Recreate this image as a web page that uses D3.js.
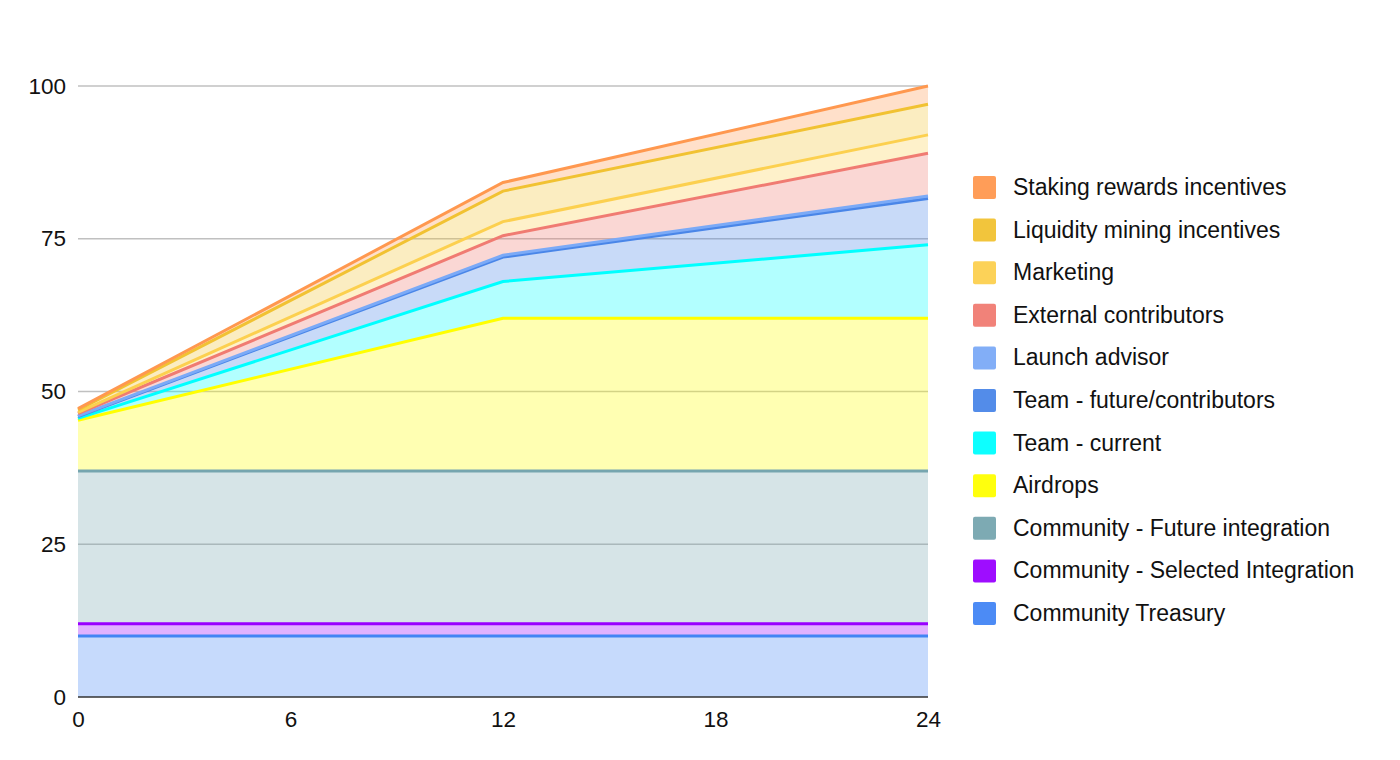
<!DOCTYPE html>
<html>
<head>
<meta charset="utf-8">
<script src="https://cdn.jsdelivr.net/npm/d3@7"></script>
<style>
  html, body { margin: 0; padding: 0; background: #fff; }
  svg { display: block; }
  text { font-family: "Liberation Sans", Arial, sans-serif; fill: #111; }
</style>
</head>
<body>
<svg id="chart" width="1400" height="760"></svg>
<script>
// ---- Data ----
const months = [0, 12, 24];
const seriesNames = [
  "Community Treasury",
  "Community - Selected Integration",
  "Community - Future integration",
  "Airdrops",
  "Team - current",
  "Team - future/contributors",
  "Launch advisor",
  "External contributors",
  "Marketing",
  "Liquidity mining incentives",
  "Staking rewards incentives"
];
const communityTreasury = [10, 10, 10];
const selectedIntegration = [2, 2, 2];
const futureIntegration = [25, 25, 25];
const airdrops = [8.3, 25, 25];
const teamCurrent = [0.3, 6, 12];
const teamFuture = [0.3, 4, 7.6];
const launchAdvisor = [0.1, 0.3, 0.4];
const externalContributors = [0.4, 3.2, 7];
const marketing = [0.2, 2.3, 3];
const liquidityMining = [0.4, 5, 5];
const stakingRewards = [0.2, 1.4, 3];
const seriesValues = [communityTreasury, selectedIntegration, futureIntegration, airdrops,
  teamCurrent, teamFuture, launchAdvisor, externalContributors, marketing, liquidityMining, stakingRewards];
const seriesColors = ["#4285f4", "#9900ff", "#76a5af", "#ffff00", "#00ffff", "#4a86e8",
  "#7baaf7", "#f07b72", "#fcd04f", "#f1c232", "#ff984f"];
const xTicks = [0, 6, 12, 18, 24];
const yTicks = [0, 25, 50, 75, 100];

// ---- Layout ----
const svg = d3.select("#chart");
const plotL = 78, plotR = 928, plotT = 86, plotB = 697;
const x = d3.scaleLinear().domain([0, 24]).range([plotL, plotR]);
const y = d3.scaleLinear().domain([0, 100]).range([plotB, plotT]);

// table for stack
const table = months.map((m, i) => {
  const row = { month: m };
  seriesNames.forEach((n, k) => row[n] = seriesValues[k][i]);
  return row;
});
const stacked = d3.stack().keys(seriesNames)(table);

// gridlines
svg.append("g").selectAll("line").data(yTicks.filter(d => d > 0)).join("line")
  .attr("x1", plotL).attr("x2", plotR)
  .attr("y1", d => y(d)).attr("y2", d => y(d))
  .attr("stroke", "#c0c0c0").attr("stroke-width", 1.3);

// areas
const area = d3.area()
  .x((d, i) => x(months[i]))
  .y0(d => y(d[0])).y1(d => y(d[1]));
const line = d3.line()
  .x((d, i) => x(months[i]))
  .y(d => y(d[1]));

svg.append("g").selectAll("path").data(stacked).join("path")
  .attr("d", area)
  .attr("fill", (d, k) => seriesColors[k])
  .attr("fill-opacity", 0.3);

// baseline
svg.append("line").attr("x1", plotL).attr("x2", plotR)
  .attr("y1", y(0)).attr("y2", y(0)).attr("stroke", "#333").attr("stroke-width", 1.5);

svg.append("g").selectAll("path").data(stacked).join("path")
  .attr("d", line)
  .attr("fill", "none")
  .attr("stroke", (d, k) => seriesColors[k])
  .attr("stroke-width", 3);

// axes labels
const yAxis = d3.axisLeft(y).tickValues(yTicks).tickSize(0).tickPadding(12);
const gy = svg.append("g").attr("transform", `translate(${plotL},0)`).call(yAxis);
gy.select(".domain").remove();
gy.selectAll("text").style("font-size", "22.5px").style("font-family", "Liberation Sans, Arial, sans-serif").attr("fill", "#111");

const xAxis = d3.axisBottom(x).tickValues(xTicks).tickSize(0).tickPadding(14);
const gx = svg.append("g").attr("transform", `translate(0,${plotB})`).call(xAxis);
gx.select(".domain").remove();
gx.selectAll("text").style("font-size", "22.5px").style("font-family", "Liberation Sans, Arial, sans-serif").attr("fill", "#111");

// legend (top series first)
const legendItems = seriesNames.map((n, k) => ({ name: n, color: seriesColors[k] })).reverse();
const lg = svg.append("g");
const rows = lg.selectAll("g").data(legendItems).join("g")
  .attr("transform", (d, i) => `translate(973, ${187 + i * 42.6})`);
rows.append("rect").attr("x", 0).attr("y", -11).attr("width", 23).attr("height", 23)
  .attr("rx", 2).attr("fill", d => d.color).attr("fill-opacity", 0.95);
rows.append("text").attr("x", 40).attr("y", 0).attr("dy", "0.35em")
  .style("font-size", "23px").text(d => d.name);
</script>
</body>
</html>
